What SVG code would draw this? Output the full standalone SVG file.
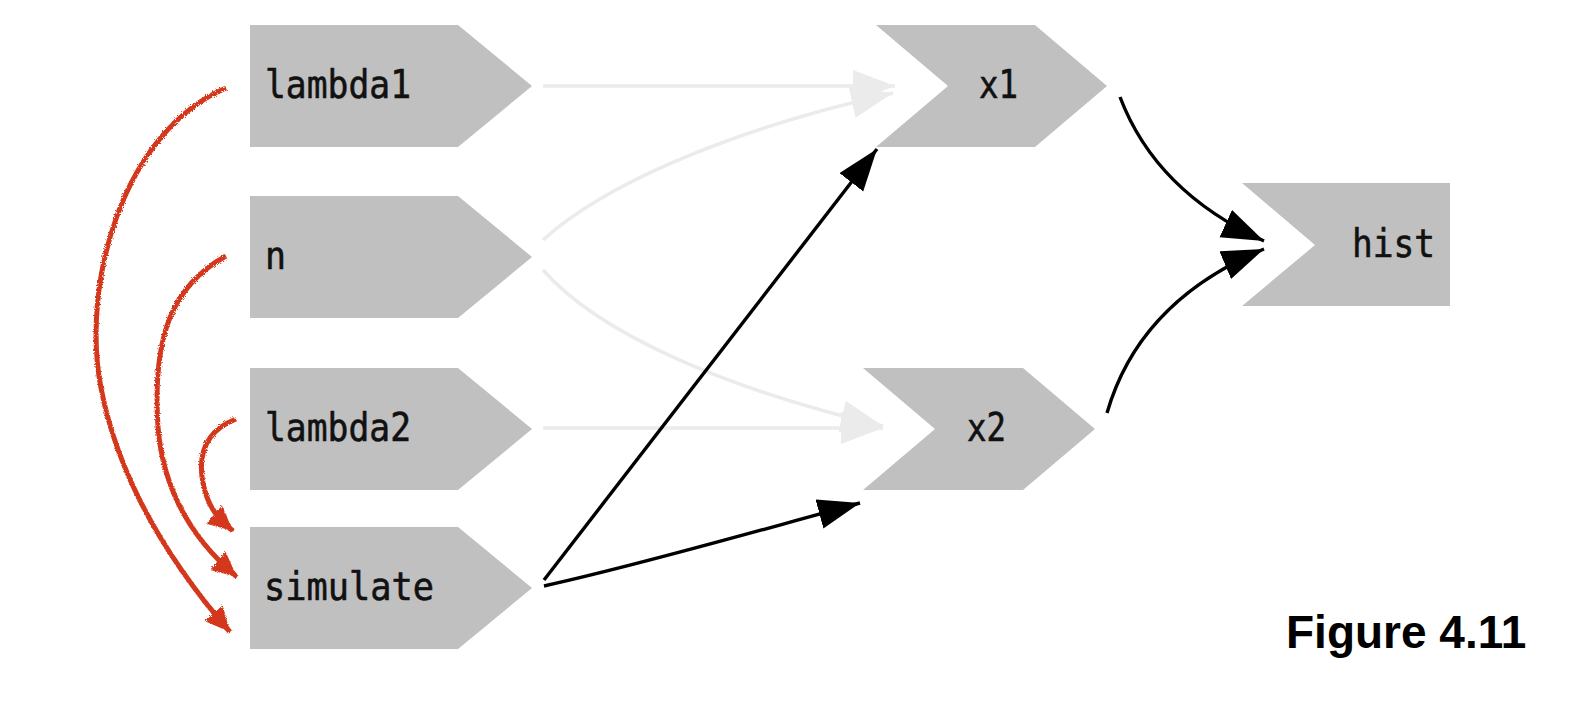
<svg xmlns="http://www.w3.org/2000/svg" width="1594" height="706" viewBox="0 0 1594 706">
<style>
.node{fill:#c0c0c0}
.lbl{font-family:"DejaVu Sans Mono","Liberation Mono",monospace;font-size:39px;fill:#111;stroke:#111;stroke-width:0.6}
.faint{fill:none;stroke:#ebebeb;stroke-width:3.5}
.dark{fill:none;stroke:#000;stroke-width:3.4}
.red{fill:none;stroke:#d3381c;stroke-width:5;filter:url(#rough)}
.cap{font-family:"Liberation Sans",Arial,sans-serif;font-weight:bold;font-size:46px;fill:#000}
</style>
<defs>
<marker id="hf" markerUnits="userSpaceOnUse" markerWidth="44" markerHeight="34" refX="42" refY="16" orient="auto"><path d="M0,0 L42,16 L0,32 Z" fill="#ebebeb"/></marker>
<marker id="hd" markerUnits="userSpaceOnUse" markerWidth="44" markerHeight="32" refX="42" refY="15" orient="auto"><path d="M0,0 L42,15 L0,30 Z" fill="#000"/></marker>
<marker id="hr" markerUnits="userSpaceOnUse" markerWidth="28" markerHeight="26" refX="25" refY="12" orient="auto"><path d="M0,0 L25,12 L0,24 Z" fill="#d3381c"/></marker>
<filter id="rough" x="-10%" y="-10%" width="120%" height="120%"><feTurbulence type="fractalNoise" baseFrequency="0.9" numOctaves="2" result="t"/><feDisplacementMap in="SourceGraphic" in2="t" scale="3.5"/></filter>
</defs>
<g id="connectors">
<path class="faint" d="M543,86 L895,86" marker-end="url(#hf)"/>
<path class="faint" d="M543,240 C600,188 720,132 893,93" marker-end="url(#hf)"/>
<path class="faint" d="M543,270 C600,335 730,390 883,426" marker-end="url(#hf)"/>
<path class="faint" d="M543,428 L883,428" marker-end="url(#hf)"/>
<path class="dark" d="M544,580 L877,149" marker-end="url(#hd)"/>
<path class="dark" d="M544,586 C640,565 760,530 860,503" marker-end="url(#hd)"/>
<path class="dark" d="M1120,97 C1142,155 1185,205 1264,241" marker-end="url(#hd)"/>
<path class="dark" d="M1107,413 C1128,340 1178,285 1264,249" marker-end="url(#hd)"/>
<path class="red" d="M226,88 C122,132 81,285 101,388 C121,492 183,578 230,632" marker-end="url(#hr)"/>
<path class="red" d="M226,256 C173,285 152,335 158,427 C163,490 193,540 237,577" marker-end="url(#hr)"/>
<path class="red" d="M236,419 C203,432 198,457 203,483 C208,508 218,518 233,531" marker-end="url(#hr)"/>
</g>
<g id="lambda1"><path class="node" d="M250,25 H458 L532,86 L458,147 H250 Z"/><text class="lbl" x="265" y="98" textLength="146" lengthAdjust="spacingAndGlyphs">lambda1</text></g>
<g id="n"><path class="node" d="M250,196 H458 L532,257 L458,318 H250 Z"/><text class="lbl" x="265" y="269" textLength="21" lengthAdjust="spacingAndGlyphs">n</text></g>
<g id="lambda2"><path class="node" d="M250,368 H458 L532,429 L458,490 H250 Z"/><text class="lbl" x="265" y="441" textLength="146" lengthAdjust="spacingAndGlyphs">lambda2</text></g>
<g id="simulate"><path class="node" d="M250,527 H458 L532,588 L458,649 H250 Z"/><text class="lbl" x="264" y="600" textLength="170" lengthAdjust="spacingAndGlyphs">simulate</text></g>
<g id="x1"><path class="node" d="M876,25 H1035 L1107,86 L1035,147 H876 L948,86 Z"/><text class="lbl" x="979" y="98" textLength="39" lengthAdjust="spacingAndGlyphs">x1</text></g>
<g id="x2"><path class="node" d="M863,368 H1023 L1095,429 L1023,490 H863 L935,429 Z"/><text class="lbl" x="967" y="441" textLength="39" lengthAdjust="spacingAndGlyphs">x2</text></g>
<g id="hist"><path class="node" d="M1242,183 H1450 V306 H1242 L1315,245 Z"/><text class="lbl" x="1352" y="257" textLength="83" lengthAdjust="spacingAndGlyphs">hist</text></g>
<text class="cap" x="1286" y="648">Figure 4.11</text>
</svg>
